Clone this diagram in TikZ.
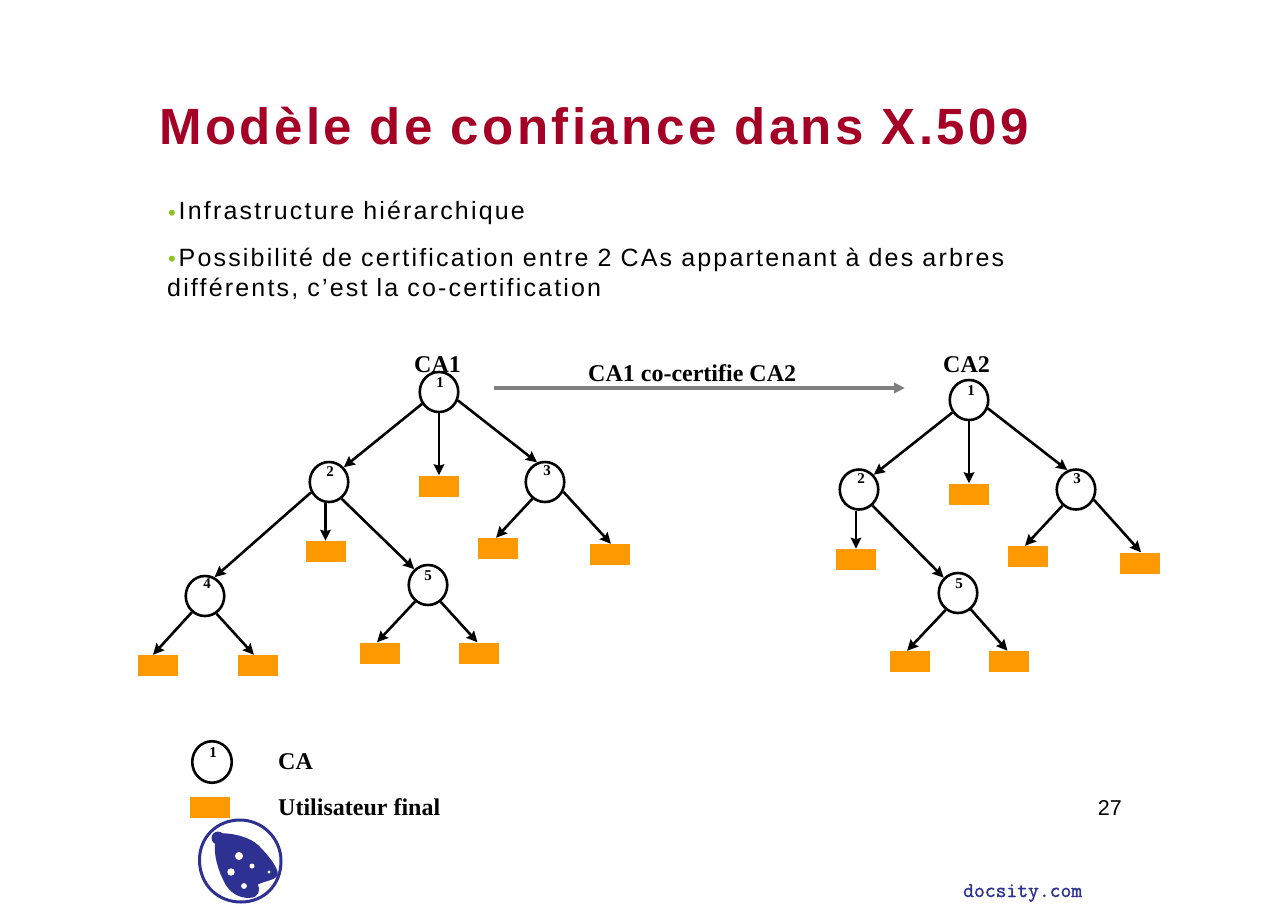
\documentclass[tikz,border=0pt]{standalone}
\usepackage{fontspec}
\setmainfont{Liberation Sans}
\newfontfamily\serifb{Liberation Serif Bold}
\newfontfamily\titlef[LetterSpace=6.85]{Liberation Sans Bold}
\newfontfamily\bodyf[LetterSpace=8.7]{Liberation Sans}
\newfontfamily\docf[FakeBold=1.2]{Latin Modern Mono}
\usetikzlibrary{arrows.meta,shapes.geometric}
\definecolor{titlered}{HTML}{A50026}
\definecolor{bulletgreen}{HTML}{8CC31E}
\definecolor{useror}{HTML}{FF9900}
\definecolor{logoblue}{HTML}{2E3192}
\definecolor{arrowgray}{HTML}{808080}
\tikzset{
  x=1pt,y=-1pt,
  ca/.style={ellipse,draw=black,line width=2.6pt,minimum width=38.5pt,minimum height=40pt,inner sep=0pt,fill=white},
  usr/.style={rectangle,fill=useror,minimum width=40pt,minimum height=21pt,inner sep=0pt},
  num/.style={font=\serifb\fontsize{15}{15}\selectfont,inner sep=0pt},
  lbl/.style={font=\serifb\fontsize{24}{24}\selectfont,inner sep=0pt,anchor=base west},
  body/.style={font=\bodyf\fontsize{25}{30}\selectfont,inner sep=0pt,anchor=base west},
  bul/.style={font=\fontsize{22}{22}\selectfont,text=bulletgreen,inner sep=0pt,anchor=base west},
  link/.style={-{Stealth[length=11pt,width=10.5pt,inset=1.5pt]},line width=2.6pt,black},
}
\begin{document}
\begin{tikzpicture}
\useasboundingbox (0,0) rectangle (1280,905);
\fill[white] (0,0) rectangle (1280,905);
% texts
\node[font=\titlef\fontsize{51}{51}\selectfont,text=titlered,inner sep=0pt,anchor=base west] (title) at (159,144) {Modèle de confiance dans X.509};
\node[bul] (b1) at (168,220) {•};
\node[body] (t1) at (178.5,219) {Infrastructure hiérarchique};
\node[bul] (b2) at (168,266) {•};
\node[body] (t2) at (178.5,266) {Possibilité de certification entre 2 CAs appartenant à des arbres};
\node[body] (t3) at (167,296) {différents, c’est la co-certification};
% tree 1
\node[ca] (a1) at (439,392) {};
\node[ca] (a2) at (329,482) {};
\node[ca] (a3) at (545,482) {};
\node[ca] (a4) at (205,596) {};
\node[ca] (a5) at (428,585) {};
\node[usr] (ua1) at (439,486) {};
\node[usr] (ua2) at (325.5,551.5) {};
\node[usr] (ua3) at (498,548.5) {};
\node[usr] (ua4) at (610,554.5) {};
\node[usr] (ua5) at (158,665.5) {};
\node[usr] (ua6) at (258,665.5) {};
\node[usr] (ua7) at (380,653) {};
\node[usr] (ua8) at (478.5,653) {};
\draw[link] (a1.215) -- (a2.45);
\draw[link] (a1.-24) -- (a3.112);
\draw[link] (a1.south) -- (ua1.north);
\draw[link] (a2.210) -- (a4.63);
\draw[link] (a2.-53) -- (a5.131);
\draw[link] (a2.south -| ua2.north) -- (ua2.north);
\draw[link] (a3.233) -- ([xshift=-2pt]ua3.north);
\draw[link] (a3.-28) -- ([xshift=1pt]ua4.north);
\draw[link] (a4.231) -- ([xshift=-5pt]ua5.north);
\draw[link] (a4.-57) -- ([xshift=-4pt]ua6.north);
\draw[link] (a5.232) -- ([xshift=-3pt]ua7.north);
\draw[link] (a5.-53) -- ([xshift=-1pt]ua8.north);
\node[num] (na1) at (440,383) {1};
\node[num] (na2) at (330,472) {2};
\node[num] (na3) at (547,471) {3};
\node[num] (na4) at (207,584) {4};
\node[num] (na5) at (428,576) {5};
\node[lbl] (ca1) at (414,372) {CA1};
% tree 2
\node[ca] (c1) at (969,400) {};
\node[ca] (c2) at (859,489.5) {};
\node[ca] (c3) at (1076,489.5) {};
\node[ca] (c5) at (958,593) {};
\node[usr] (uc1) at (969,494) {};
\node[usr] (uc2) at (856,559.5) {};
\node[usr] (uc3) at (1028,556.5) {};
\node[usr] (uc4) at (1140,563) {};
\node[usr] (uc5) at (910,661.5) {};
\node[usr] (uc6) at (1008.5,661.5) {};
\draw[link] (c1.217) -- (c2.45);
\draw[link] (c1.-24) -- (c3.114);
\draw[link] (c1.south) -- (uc1.north);
\draw[link] (c2.-50) -- (c5.133);
\draw[link] (c2.south -| uc2.north) -- (uc2.north);
\draw[link] (c3.230) -- ([xshift=-3pt]uc3.north);
\draw[link] (c3.-30) -- ([xshift=1pt]uc4.north);
\draw[link] (c5.234) -- ([xshift=-3pt]uc5.north);
\draw[link] (c5.-52) -- ([xshift=-1pt]uc6.north);
\node[num] (nc1) at (971,391) {1};
\node[num] (nc2) at (861,479) {2};
\node[num] (nc3) at (1077,479) {3};
\node[num] (nc5) at (959,584) {5};
\node[lbl] (ca2) at (943,372) {CA2};
% cross-certification
\coordinate (crossa) at (494,388);
\coordinate (crossb) at (905,388);
\draw[-{Triangle[length=11pt,width=10pt]},line width=3.4pt,arrowgray] (crossa) -- (crossb);
\node[lbl] (cross) at (588,381) {CA1 co-certifie CA2};
% legend
\node[ca,minimum width=39.5pt,minimum height=41.5pt] (lc) at (212,762) {};
\node[num] (ln) at (213,753) {1};
\node[lbl] (lca) at (278,769) {CA};
\node[usr] (lu) at (210,807) {};
\node[lbl] (lut) at (278,815) {Utilisateur final};
\node[inner sep=0pt,anchor=base east,font=\fontsize{21.5}{21.5}\selectfont] (page) at (1122,815.5) {27};
% logo
\draw[logoblue,line width=3pt] (240,820) .. controls (262,820) and (281,838) .. (281,861)
  .. controls (281,885) and (264,902) .. (241,902)
  .. controls (217,902) and (199.5,884) .. (199.5,860)
  .. controls (199.5,837) and (217,820) .. (240,820) -- cycle;
\fill[logoblue] (218,838) circle[radius=6.5];
\filldraw[logoblue,line width=1.5pt,line join=round] (221,834) .. controls (234,834) and (250,838) .. (258,846)
  .. controls (267,855) and (276,866) .. (277,873)
  .. controls (278,879) and (265,880) .. (257,884)
  .. controls (260,890) and (258,897) .. (250,897)
  .. controls (240,898) and (230,892) .. (225,882)
  .. controls (219,870) and (214,855) .. (216,842) -- cycle;
\fill[white] (239,856) circle[radius=4];
\fill[white] (252,866) circle[radius=2.5];
\fill[white] (231,872) circle[radius=3.7];
\fill[white] (244,886) circle[radius=2.9];
\fill[white] (269,872) circle[radius=1.6];
\node[inner sep=0pt,anchor=base west,text=logoblue,font=\docf\fontsize{21}{21}\selectfont] (doc) at (963,897) {docsity.com};
\end{tikzpicture}
\end{document}
